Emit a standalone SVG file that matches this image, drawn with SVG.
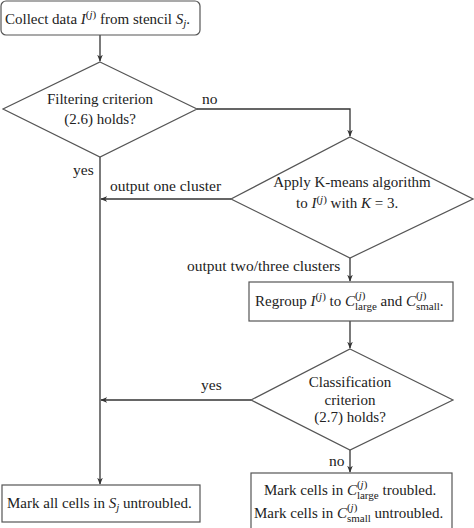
<svg xmlns="http://www.w3.org/2000/svg" width="474" height="528" viewBox="0 0 474 528">
<defs>
<style>
text{font-family:"Liberation Serif","Times New Roman",serif;font-size:15px;fill:#222}
.m{text-anchor:middle}
.i{font-style:italic}
.s{font-size:11px}
.lb{font-size:15.5px}
.box{fill:#fff;stroke:#555;stroke-width:1.2}
.ln{fill:none;stroke:#333;stroke-width:1.3}
</style>
<marker id="ah" viewBox="0 0 10 10" refX="9" refY="5" markerWidth="7" markerHeight="7" markerUnits="userSpaceOnUse" orient="auto">
<path d="M0,1 L10,5 L0,9 L3,5 Z" fill="#333"/>
</marker>
</defs>
<rect width="474" height="528" fill="#fff"/>
<g id="connectors">
<path class="ln" d="M100,35 V61" marker-end="url(#ah)"/>
<path class="ln" d="M197,109 H350 V136" marker-end="url(#ah)"/>
<path class="ln" d="M100,157 V484" marker-end="url(#ah)"/>
<path class="ln" d="M231,199 H101" marker-end="url(#ah)"/>
<path class="ln" d="M350,258 V281" marker-end="url(#ah)"/>
<path class="ln" d="M350,321 V348" marker-end="url(#ah)"/>
<path class="ln" d="M251,400 H101" marker-end="url(#ah)"/>
<path class="ln" d="M350,450 V472" marker-end="url(#ah)"/>
<text class="lb" x="202" y="104">no</text>
<text class="lb" x="73" y="175">yes</text>
<text class="lb" x="110" y="191">output one cluster</text>
<text class="lb" x="187" y="271">output two/three clusters</text>
<text class="lb" x="201" y="390">yes</text>
<text class="lb" x="329" y="466">no</text>
</g>
<g id="n1">
<rect class="box" x="1" y="1" width="199" height="34" rx="5"/>
<text x="5" y="24">Collect data <tspan class="i">I</tspan><tspan class="s" dy="-6">(<tspan class="i">j</tspan>)</tspan><tspan dy="6"> from stencil </tspan><tspan class="i">S</tspan><tspan class="s i" dy="3">j</tspan><tspan dy="-3">.</tspan></text>
</g>
<g id="n2">
<polygon class="box" points="100,62 197,109 100,157 3,109"/>
<text class="m" x="100" y="104">Filtering criterion</text>
<text class="m" x="100" y="124">(2.6) holds?</text>
</g>
<g id="n3">
<polygon class="box" points="350,137 473,199 350,258 231,199"/>
<text class="m" x="352" y="187">Apply K-means algorithm</text>
<text x="296" y="208">to <tspan class="i">I</tspan><tspan class="s" dy="-5">(<tspan class="i">j</tspan>)</tspan><tspan dy="5"> with </tspan><tspan class="i">K</tspan> = 3.</text>
</g>
<g id="n4">
<rect class="box" x="249" y="282" width="204" height="39"/>
<text x="255" y="306">Regroup <tspan class="i">I</tspan><tspan class="s" dy="-6">(<tspan class="i">j</tspan>)</tspan><tspan dy="6"> to </tspan><tspan class="i">C</tspan><tspan class="s" dy="-7">(<tspan class="i">j</tspan>)</tspan><tspan class="s" dx="-10.4" dy="11">large</tspan><tspan dy="-4"> and </tspan><tspan class="i">C</tspan><tspan class="s" dy="-7">(<tspan class="i">j</tspan>)</tspan><tspan class="s" dx="-10.4" dy="11">small</tspan><tspan dy="-4">.</tspan></text>
</g>
<g id="n5">
<polygon class="box" points="350,349 453,400 350,450 251,400"/>
<text class="m" x="350" y="387">Classification</text>
<text class="m" x="350" y="405">criterion</text>
<text class="m" x="350" y="422">(2.7) holds?</text>
</g>
<g id="n6">
<rect class="box" x="2" y="485" width="198" height="37"/>
<text x="7" y="508">Mark all cells in <tspan class="i">S</tspan><tspan class="s i" dy="3">j</tspan><tspan dy="-3"> untroubled.</tspan></text>
</g>
<g id="n7">
<rect class="box" x="251" y="473" width="201" height="56"/>
<text x="264" y="495">Mark cells in <tspan class="i">C</tspan><tspan class="s" dy="-7">(<tspan class="i">j</tspan>)</tspan><tspan class="s" dx="-10.4" dy="11">large</tspan><tspan dy="-4"> troubled.</tspan></text>
<text x="254" y="518">Mark cells in <tspan class="i">C</tspan><tspan class="s" dy="-7">(<tspan class="i">j</tspan>)</tspan><tspan class="s" dx="-10.4" dy="11">small</tspan><tspan dy="-4"> untroubled.</tspan></text>
</g>
</svg>
